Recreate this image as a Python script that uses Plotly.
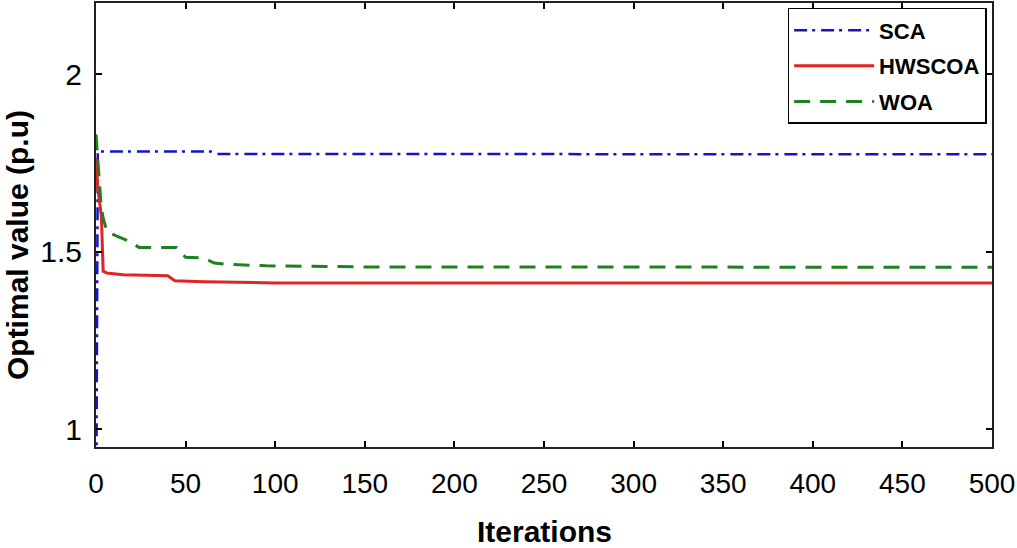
import plotly.graph_objects as go

# ---- data ----
sca_iter = [0, 1, 64, 67, 500]
sca_val = [0.6, 1.782, 1.782, 1.775, 1.774]

hw_iter = [0, 1, 2, 3, 4, 6, 15, 34, 40, 44, 60, 100, 500]
hw_val = [1.765, 1.68, 1.64, 1.60, 1.445, 1.440, 1.435, 1.433, 1.432, 1.418, 1.415, 1.412, 1.412]

woa_iter = [0, 1, 2, 3, 4, 6, 11, 18, 24, 45, 50, 60, 66, 72, 95, 150, 500]
woa_val = [1.83, 1.75, 1.68, 1.62, 1.595, 1.557, 1.545, 1.53, 1.512, 1.512, 1.484, 1.482, 1.468, 1.465, 1.460, 1.457, 1.456]

x_ticks = [0, 50, 100, 150, 200, 250, 300, 350, 400, 450, 500]
y_ticks = [1, 1.5, 2]
y_tick_text = ["1", "1.5", "2"]

FONT = "Liberation Sans, Arial"
BOLD = "Liberation Sans, Arial"

fig = go.Figure()
fig.add_trace(go.Scatter(x=sca_iter, y=sca_val, mode="lines", name="SCA",
                         legendgroup="a",
                         line=dict(color="#1414c4", width=2.5, dash="13px,5px,3px,6px")))
fig.add_trace(go.Scatter(x=hw_iter, y=hw_val, mode="lines", name="HWSCOA",
                         legendgroup="b",
                         line=dict(color="#e02424", width=3)))
fig.add_trace(go.Scatter(x=woa_iter, y=woa_val, mode="lines", name="WOA",
                         legendgroup="c",
                         line=dict(color="#1f801f", width=3, dash="16px,10px")))

fig.update_layout(
    width=1017, height=548,
    margin=dict(l=96, r=25, t=3, b=101, autoexpand=False),
    paper_bgcolor="white", plot_bgcolor="white",
    showlegend=True,
    legend=dict(x=0.994, y=0.989, xanchor="right", yanchor="top",
                bordercolor="black", borderwidth=1.5, bgcolor="white",
                font=dict(family=BOLD, size=22, color="black", weight="bold"),
                itemwidth=80, tracegroupgap=4),
    xaxis=dict(range=[0, 500], tickvals=x_ticks, ticks="inside", ticklen=6,
               tickwidth=1.5, tickcolor="black",
               showline=True, linecolor="#222", linewidth=2, mirror="ticks",
               showgrid=False, zeroline=False, ticklabelstandoff=10,
               tickfont=dict(family=FONT, size=28, color="black")),
    yaxis=dict(range=[0.95, 2.2], tickvals=y_ticks, ticktext=y_tick_text,
               ticks="inside", ticklen=6, tickwidth=1.5, tickcolor="black",
               showline=True, linecolor="#222", linewidth=2, mirror="ticks",
               showgrid=False, zeroline=False, ticklabelstandoff=6,
               tickfont=dict(family=FONT, size=30, color="black")),
    annotations=[
        dict(text="Iterations", xref="paper", yref="paper", x=0.5, y=-0.2309,
             xanchor="center", yanchor="bottom", showarrow=False,
             font=dict(family=BOLD, size=30, color="black", weight="bold")),
        dict(text="Optimal value (p.u)", xref="paper", yref="paper", x=-0.087, y=0.455,
             xanchor="center", yanchor="middle", showarrow=False, textangle=-90,
             font=dict(family=BOLD, size=30, color="black", weight="bold")),
    ],
)

fig.write_html("out.html", config={"displayModeBar": False},
               post_script="document.body.style.margin='0';document.body.style.padding='0';")
